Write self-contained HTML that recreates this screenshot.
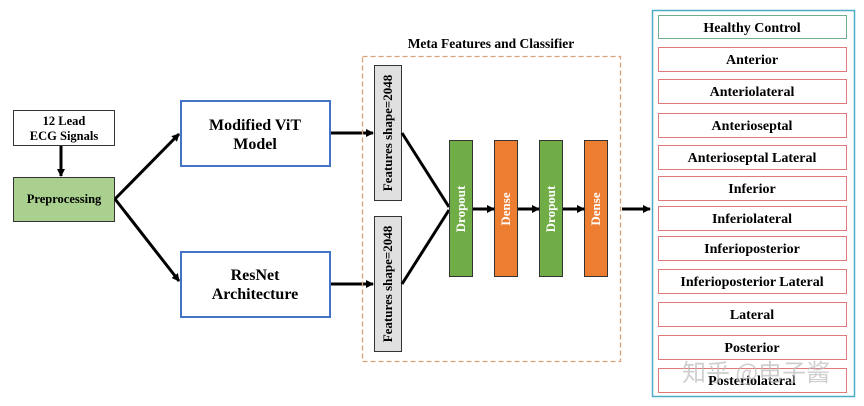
<!DOCTYPE html>
<html><head><meta charset="utf-8"><style>
html,body{margin:0;padding:0;background:#fff;}
svg{display:block;font-family:"Liberation Serif","Noto Serif CJK SC",serif;font-weight:bold;}
</style></head><body>
<svg width="864" height="406" viewBox="0 0 864 406" xmlns="http://www.w3.org/2000/svg">
<defs><marker id="a" markerWidth="8" markerHeight="8" refX="7" refY="4" orient="auto" markerUnits="userSpaceOnUse"><path d="M0,0 L8,4 L0,8 z" fill="#000"/></marker></defs>
<rect width="864" height="406" fill="#fff"/>
<rect x="13.5" y="110.5" width="101" height="35" fill="#fff" stroke="#333" stroke-width="1"/>
<text x="64" y="125" font-size="12.5" text-anchor="middle">12 Lead</text>
<text x="64" y="140" font-size="12.5" text-anchor="middle">ECG Signals</text>
<line x1="61" y1="146" x2="61" y2="176" stroke="#000" stroke-width="3" marker-end="url(#a)"/>
<rect x="13.5" y="177.5" width="101" height="44" fill="#a9d08e" stroke="#333" stroke-width="1"/>
<text x="64" y="203" font-size="12.5" text-anchor="middle">Preprocessing</text>
<line x1="115" y1="199" x2="179" y2="134" stroke="#000" stroke-width="3" marker-end="url(#a)"/>
<line x1="115" y1="199" x2="179" y2="281" stroke="#000" stroke-width="3" marker-end="url(#a)"/>
<rect x="181" y="101" width="149" height="65" fill="#fff" stroke="#4472c4" stroke-width="2"/>
<text x="255" y="130" font-size="16" text-anchor="middle">Modified ViT</text>
<text x="255" y="149" font-size="16" text-anchor="middle">Model</text>
<rect x="181" y="252" width="149" height="65" fill="#fff" stroke="#4472c4" stroke-width="2"/>
<text x="255" y="280" font-size="16" text-anchor="middle">ResNet</text>
<text x="255" y="299" font-size="16" text-anchor="middle">Architecture</text>
<line x1="331" y1="133" x2="373" y2="133" stroke="#000" stroke-width="3" marker-end="url(#a)"/>
<line x1="331" y1="284" x2="373" y2="284" stroke="#000" stroke-width="3" marker-end="url(#a)"/>
<text x="491" y="48" font-size="13.5" text-anchor="middle">Meta Features and Classifier</text>
<rect x="362.5" y="56.5" width="258" height="305" fill="none" stroke="#d9a07a" stroke-width="1.3" stroke-dasharray="5,3"/>
<rect x="374.5" y="65.5" width="27" height="135" fill="#e0e0e0" stroke="#333"/>
<text transform="translate(392,133) rotate(-90)" font-size="13" text-anchor="middle">Features shape=2048</text>
<rect x="374.5" y="216.5" width="27" height="135" fill="#e0e0e0" stroke="#333"/>
<text transform="translate(392,284) rotate(-90)" font-size="13" text-anchor="middle">Features shape=2048</text>
<line x1="402" y1="133" x2="449" y2="207" stroke="#000" stroke-width="3"/>
<line x1="402" y1="284" x2="449" y2="210" stroke="#000" stroke-width="3"/>
<rect x="449.5" y="140.5" width="23" height="136" fill="#70ad47" stroke="#333"/>
<rect x="494.5" y="140.5" width="23" height="136" fill="#ed7d31" stroke="#333"/>
<rect x="539.5" y="140.5" width="23" height="136" fill="#70ad47" stroke="#333"/>
<rect x="584.5" y="140.5" width="23" height="136" fill="#ed7d31" stroke="#333"/>
<g fill="#fff" font-size="13" text-anchor="middle">
<text transform="translate(465,209) rotate(-90)">Dropout</text>
<text transform="translate(510,209) rotate(-90)">Dense</text>
<text transform="translate(555,209) rotate(-90)">Dropout</text>
<text transform="translate(600,209) rotate(-90)">Dense</text>
</g>
<line x1="473" y1="209" x2="494" y2="209" stroke="#000" stroke-width="3" marker-end="url(#a)"/>
<line x1="518" y1="209" x2="539" y2="209" stroke="#000" stroke-width="3" marker-end="url(#a)"/>
<line x1="563" y1="209" x2="584" y2="209" stroke="#000" stroke-width="3" marker-end="url(#a)"/>
<line x1="622" y1="209" x2="650" y2="209" stroke="#000" stroke-width="3" marker-end="url(#a)"/>
<rect x="652.5" y="10.5" width="202" height="386" fill="none" stroke="#4bacc6" stroke-width="1.5"/>
<g font-size="14" text-anchor="middle">
<rect x="658.5" y="15.5" width="188" height="23" fill="#fff" stroke="#70ad8e"/><text x="752" y="32">Healthy Control</text>
<g fill="#fff" stroke="#e07a7a">
<rect x="658.5" y="47.5" width="188" height="24"/>
<rect x="658.5" y="79.5" width="188" height="24"/>
<rect x="658.5" y="113.5" width="188" height="24"/>
<rect x="658.5" y="145.5" width="188" height="24"/>
<rect x="658.5" y="176.5" width="188" height="24"/>
<rect x="658.5" y="206.5" width="188" height="24"/>
<rect x="658.5" y="236.5" width="188" height="24"/>
<rect x="658.5" y="269.5" width="188" height="24"/>
<rect x="658.5" y="302.5" width="188" height="24"/>
<rect x="658.5" y="335.5" width="188" height="24"/>
<rect x="658.5" y="368.5" width="188" height="24"/>
</g>
<text x="752" y="64">Anterior</text>
<text x="752" y="96">Anteriolateral</text>
<text x="752" y="130">Anterioseptal</text>
<text x="752" y="162">Anterioseptal Lateral</text>
<text x="752" y="193">Inferior</text>
<text x="752" y="223">Inferiolateral</text>
<text x="752" y="253">Inferioposterior</text>
<text x="752" y="286">Inferioposterior Lateral</text>
<text x="752" y="319">Lateral</text>
<text x="752" y="352">Posterior</text>
<text x="752" y="385">Posteriolateral</text>
</g>
<text x="682" y="381" font-size="24" font-weight="normal" fill="#bbb" fill-opacity="0.7" font-family="'Noto Sans CJK SC',sans-serif">知乎 @电子酱</text>
</svg>
</body></html>
